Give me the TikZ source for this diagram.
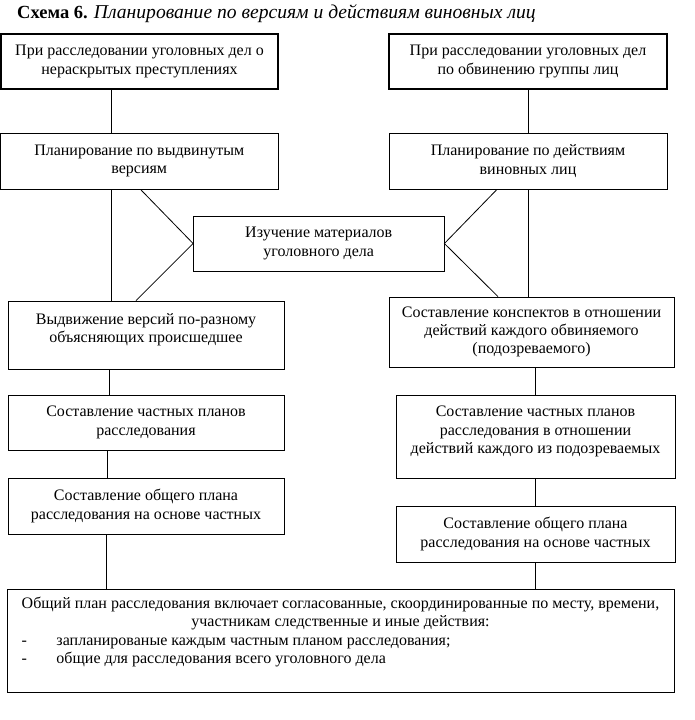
\documentclass[tikz,border=0pt]{standalone}
\usepackage{fontspec}
\setmainfont{Liberation Serif}
\usepackage{tikz}

\begin{document}
\begin{tikzpicture}[x=1pt,y=-1pt,
        blok/.style={draw,line width=0.8pt,align=center,inner sep=0pt,
            font=\fontsize{16}{18.4}\selectfont},
        glav/.style={blok,line width=1.8pt}]
                \useasboundingbox (0,0) rectangle (694,720);
                \node[anchor=base west,inner sep=0pt,font=\fontsize{18.5}{20}\selectfont]
                    (titul) at (17,18) {\textbf{Схема 6.} {\fontsize{19.6}{20}\selectfont\textit{Планирование по версиям и действиям виновных лиц}}};
                \node[glav,minimum width=277pt,minimum height=55pt]
                    (A) at (139.5,61.5) {При расследовании уголовных дел о\\нераскрытых преступлениях};
                \node[glav,minimum width=278pt,minimum height=55pt]
                    (B) at (528,61.5) {При расследовании уголовных дел\\по обвинению группы лиц};
                \node[blok,minimum width=277.5pt,minimum height=56pt]
                    (C) at (139.25,161) {Планирование по выдвинутым\\версиям};
                \node[blok,minimum width=278pt,minimum height=56pt]
                    (D) at (528,161) {Планирование по действиям\\виновных лиц};
                \node[blok,minimum width=250.5pt,minimum height=55pt]
                    (E) at (318.75,243.5) {Изучение материалов\\уголовного дела};
                \node[blok,minimum width=276pt,minimum height=68pt]
                    (F) at (146,335) {Выдвижение версий по-разному\\объясняющих происшедшее\\[-4pt]\mbox{}};
                \node[blok,minimum width=285pt,minimum height=70pt]
                    (G) at (531.5,332) {Составление конспектов в отношении\\действий каждого обвиняемого\\(подозреваемого)};
                \node[blok,minimum width=276pt,minimum height=55pt]
                    (H) at (146,422.5) {Составление частных планов\\расследования};
                \node[blok,minimum width=276pt,minimum height=56pt]
                    (I) at (146,506) {Составление общего плана\\расследования на основе частных};
                \node[blok,minimum width=279pt,minimum height=83pt]
                    (K) at (535.5,436.5) {Составление частных планов\\расследования в отношении\\действий каждого из подозреваемых\\[-5pt]\mbox{}};
                \node[blok,minimum width=279pt,minimum height=56pt]
                    (L) at (535.5,534) {Составление общего плана\\расследования на основе частных};
                \node[blok,minimum width=667pt,minimum height=103pt]
                    (J) at (340.5,640.5) {\parbox[c][93pt][t]{638pt}{\vspace*{3pt}%
                        {\centering Общий план расследования включает согласованные, скоординированные по месту, времени,\\
                        участникам следственные и иные действия:\par}
                        \makebox[35pt][l]{-}запланированые каждым частным планом расследования;\\
                        \makebox[35pt][l]{-}общие для расследования всего уголовного дела}};
                % vertical connectors
                \coordinate (k1) at (111,0);
                \coordinate (k2) at (109.5,0);
                \coordinate (k3) at (107.5,0);
                \coordinate (k4) at (106,0);
                \coordinate (k5) at (140.5,0);
                \coordinate (k6) at (136,0);
                \coordinate (k7) at (497,0);
                \coordinate (k8) at (498,0);
                \draw[line width=0.8pt]
                    (A.south -| k1) -- (C.north -| k1);
                \draw[line width=0.8pt]
                    (B.south) -- (D.north);
                \draw[line width=0.8pt]
                    (C.south -| k1) -- (F.north -| k1);
                \draw[line width=0.8pt]
                    (D.south) -- (G.north -| D.south);
                \draw[line width=0.8pt]
                    (C.south -| k5) -- (E.west) -- (F.north -| k6);
                \draw[line width=0.8pt]
                    (D.south -| k7) -- (E.east) -- (G.north -| k8);
                \draw[line width=0.8pt]
                    (F.south -| k2) -- (H.north -| k2);
                \draw[line width=0.8pt]
                    (H.south -| k3) -- (I.north -| k3);
                \draw[line width=0.8pt]
                    (I.south -| k4) -- (J.north -| k4);
                \draw[line width=0.8pt]
                    (K.north |- G.south) -- (K.north);
                \draw[line width=0.8pt]
                    (K.south) -- (L.north);
                \draw[line width=0.8pt]
                    (L.south) -- (J.north -| L.south);
            \end{tikzpicture}
\end{document}
